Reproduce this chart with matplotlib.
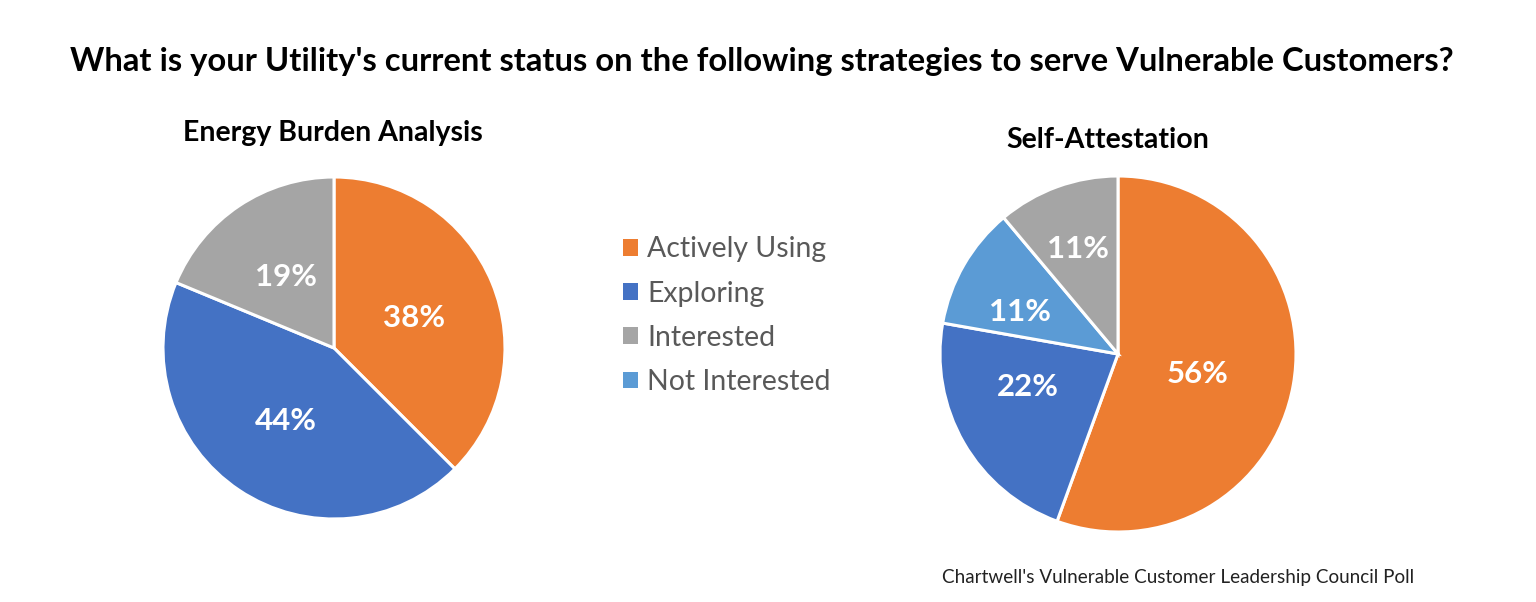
import matplotlib
matplotlib.use("Agg")
import matplotlib.pyplot as plt
import numpy as np
from matplotlib.patches import Patch

plt.rcParams['font.family'] = ['Lato', 'DejaVu Sans']

# ---- data ----
categories = ["Actively Using", "Exploring", "Interested", "Not Interested"]
colors_map = {"Actively Using": "#ED7D31", "Exploring": "#4472C4",
              "Interested": "#A5A5A5", "Not Interested": "#5B9BD5"}

left_title = "Energy Burden Analysis"
left_cats = ["Actively Using", "Exploring", "Interested"]
left_vals = [37.5, 43.75, 18.75]
left_labels = ["38%", "44%", "19%"]

right_title = "Self-Attestation"
right_cats = ["Actively Using", "Exploring", "Not Interested", "Interested"]
right_vals = [55.56, 22.22, 11.11, 11.11]
right_labels = ["56%", "22%", "11%", "11%"]

title = "What is your Utility's current status on the following strategies to serve Vulnerable Customers?"
source = "Chartwell's Vulnerable Customer Leadership Council Poll"

W, H = 1536, 602
fig = plt.figure(figsize=(W / 100, H / 100), dpi=100)
fig.patch.set_facecolor("white")


def px_axes(x0, y0, x1, y1):
    return fig.add_axes([x0 / W, (H - y1) / H, (x1 - x0) / W, (y1 - y0) / H])


def draw_pie(ax, vals, cats, labels, label_r, label_da):
    wedges, _ = ax.pie(vals, colors=[colors_map[c] for c in cats], startangle=90,
                       counterclock=False, radius=1.0,
                       wedgeprops=dict(edgecolor="white", linewidth=2.2))
    for w, lab, r, da in zip(wedges, labels, label_r, label_da):
        ang = np.deg2rad((w.theta1 + w.theta2) / 2 + da)
        ax.text(r * np.cos(ang), r * np.sin(ang), lab, ha="center", va="center",
                color="white", fontsize=22.5, fontweight="bold")
    ax.set_xlim(-1, 1)
    ax.set_ylim(-1, 1)
    ax.set_aspect("equal")
    ax.axis("off")


axL = px_axes(163, 177, 505, 519)
draw_pie(axL, left_vals, left_cats, left_labels, [0.50, 0.51, 0.50], [-2, 0, 0])

axR = px_axes(940, 176, 1296, 532)
draw_pie(axR, right_vals, right_cats, right_labels, [0.46, 0.54, 0.60, 0.63],
         [-4, -10, 7, 1])

fig.text(762 / W, 1 - 62 / H, title, ha="center", va="center",
         fontsize=23.6, fontweight="bold", color="black")
fig.text(333 / W, 1 - 133 / H, left_title, ha="center", va="center",
         fontsize=20.5, fontweight="bold", color="black")
fig.text(1108 / W, 1 - 140 / H, right_title, ha="center", va="center",
         fontsize=20.5, fontweight="bold", color="black")
fig.text(942 / W, 1 - 578 / H, source, ha="left", va="center",
         fontsize=13.6, color="#222222")

handles = [Patch(facecolor=colors_map[c], edgecolor="none", label=c) for c in categories]
fig.legend(handles=handles, loc="upper left", bbox_to_anchor=(597 / W, 1 - 211 / H),
           frameon=False, fontsize=20.4, labelcolor="#595959",
           handlelength=0.53, handleheight=0.53, handletextpad=0.35, labelspacing=0.64)

fig.savefig("out.png", dpi=100, facecolor="white")
